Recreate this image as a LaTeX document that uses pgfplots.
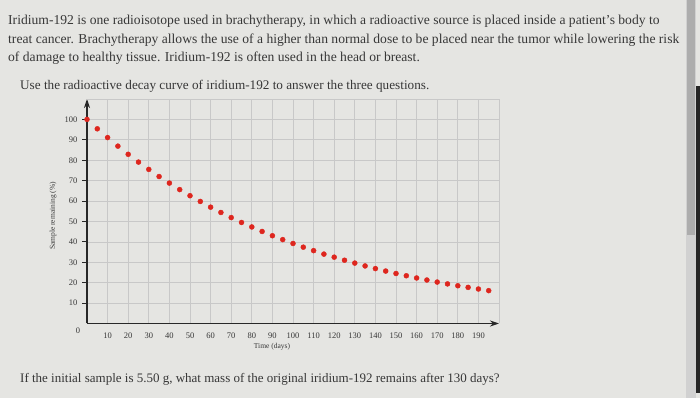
\documentclass[border=0pt]{standalone}
\usepackage{pgfplots}
\pgfplotsset{compat=1.18}
\usepackage{fontspec}
\setmainfont{Liberation Serif}
\usetikzlibrary{arrows.meta}
\definecolor{bg}{RGB}{229,229,226}
\definecolor{txt}{RGB}{55,55,55}
\definecolor{gridc}{RGB}{200,200,200}
\definecolor{dotred}{RGB}{222,38,30}
\definecolor{axc}{RGB}{40,40,40}
\pgfplotstableread{
t p
0 100
5 95.4
10 91.1
15 86.9
20 82.9
25 79.1
30 75.5
35 72.0
40 68.8
45 65.6
50 62.6
55 59.8
60 57.0
65 54.4
70 51.9
75 49.5
80 47.3
85 45.1
90 43.0
95 41.1
100 39.2
105 37.4
110 35.7
115 34.0
120 32.5
125 31.0
130 29.6
135 28.2
140 26.9
145 25.7
150 24.5
155 23.4
160 22.3
165 21.3
170 20.3
175 19.4
180 18.5
185 17.7
190 16.9
195 16.1
}\decay
\begin{document}
\begin{tikzpicture}[x=1pt,y=1pt]
\fill[bg] (0,0) rectangle (700,398);
% scrollbar
\fill[black!18] (686,0) rectangle (696,398);
\fill[black!32] (687,163) rectangle (695,398);
\fill[black!85] (696,5) rectangle (700,312);
\begin{scope}[every node/.style={inner sep=0pt, anchor=west, text=txt, font=\fontsize{13.6}{15}\selectfont}]
\node at (8,377) {Iridium-192 is one radioisotope used in brachytherapy, in which a radioactive source is placed inside a patient's body to};
\node at (8,358) {treat cancer. Brachytherapy allows the use of a higher than normal dose to be placed near the tumor while lowering the risk};
\node at (8,340) {of damage to healthy tissue. Iridium-192 is often used in the head or breast.};
\node[font=\fontsize{13.2}{15}\selectfont] at (20,312) {Use the radioactive decay curve of iridium-192 to answer the three questions.};
\node[font=\fontsize{13}{15}\selectfont] at (20,19) {If the initial sample is 5.50 g, what mass of the original iridium-192 remains after 130 days?};
\end{scope}
\begin{axis}[
  at={(87pt,74.5pt)}, anchor=south west,
  scale only axis, width=412pt, height=224.5pt,
  xmin=0, xmax=200, ymin=0, ymax=110,
  axis lines=left,
  axis line style={axc, line width=1.4pt, -{Stealth[length=9pt,width=6pt]}},
  xtick={10,20,...,190}, ytick={10,20,...,100},
  extra x ticks={200}, extra x tick labels={},
  extra y ticks={110}, extra y tick labels={},
  extra x tick style={grid=major},
  extra y tick style={grid=major, major tick length=0pt},
  grid=major,
  grid style={gridc, line width=0.7pt},
  /pgf/number format/assume math mode=true,
  tick label style={font=\fontsize{8.5}{10}\selectfont, text=txt},
  x tick style={draw=none},
  y tick style={axc, line width=0.8pt},
  major tick length=5pt,
  tick align=outside,
  xticklabel style={yshift=-1pt},
  yticklabel style={xshift=-1pt},
  clip=false,
]
\addplot[only marks, mark=*, mark size=2.5pt, draw=dotred, fill=dotred] table[x=t,y=p] {\decay};
\end{axis}
\node[text=txt, font=\fontsize{8.5}{10}\selectfont] at (78,67) {0};
\node[text=txt, rotate=90, font=\fontsize{7.5}{9}\selectfont] at (53,182) {Sample remaining (\%)};
\node[text=txt, font=\fontsize{7.5}{9}\selectfont] at (272,51) {Time (days)};
\end{tikzpicture}
\end{document}
